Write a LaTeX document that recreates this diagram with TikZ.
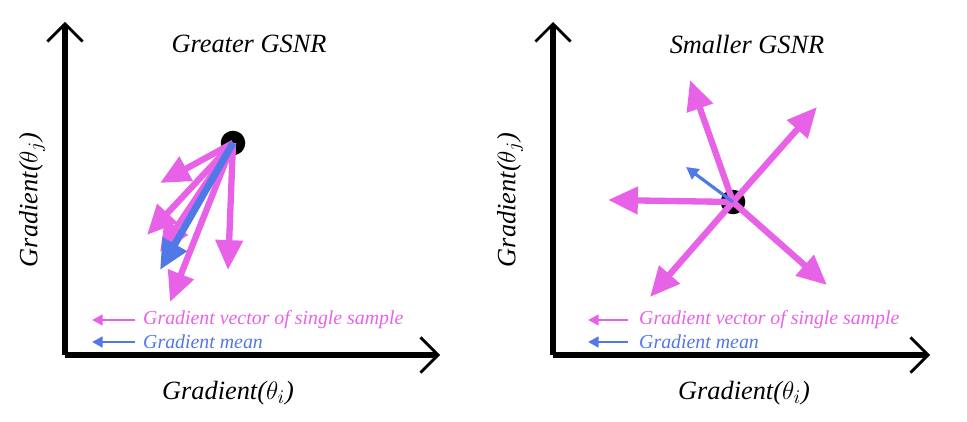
\documentclass[tikz,border=0pt]{standalone}
\usepackage{fontspec}
\setmainfont{Liberation Serif}
\usetikzlibrary{arrows.meta}
\definecolor{pk}{RGB}{232,98,232}
\definecolor{bl}{RGB}{80,120,230}
\begin{document}
\begin{tikzpicture}[x=0.02cm,y=-0.02cm,
 ax/.style={line width=3.2pt,-{Straight Barb[length=10pt,width=20pt,line width=1.6pt]}},
 pa/.style={pk,line width=3.6pt,-{Triangle[length=17pt,width=15pt]}},
 ba/.style={bl,line width=4pt,-{Triangle[length=17pt,width=15pt]}},
 sb/.style={bl,line width=1.5pt,-{Triangle[length=6pt,width=6pt]}},
 sp/.style={pk,line width=1.5pt,-{Triangle[length=6pt,width=6pt]}},
 ttl/.style={font=\itshape\fontsize{15}{18}\selectfont},
 lg/.style={font=\itshape\fontsize{11.3}{13}\selectfont,anchor=west}]
\useasboundingbox (0,0) rectangle (967,422);
% left panel
\coordinate (o1) at (65,355);
\coordinate (y1) at (65,22);
\coordinate (x1) at (440,355);
\draw[ax] (o1) -- (y1);
\draw[ax] (o1) -- (x1);
\node[ttl] (t1) at (249,44) {Greater GSNR};
\node[ttl,rotate=90] (yl1) at (32,200) {Gradient($\theta_j$)};
\node[ttl] (xl1) at (228,393) {Gradient($\theta_i$)};
\node[circle,fill=black,minimum size=14pt,inner sep=0] (d1) at (233,143) {};
\coordinate (e1) at (160,183);
\coordinate (e2) at (147,235);
\coordinate (e3) at (160,252);
\coordinate (e4) at (170,302);
\coordinate (e5) at (228,270);
\coordinate (eb) at (160,270);
\foreach \e in {e1,e2,e3,e4,e5} \draw[pa] (d1.center) -- (\e);
\draw[ba] (d1.center) -- (eb);
\coordinate (lp1a) at (135,320); \coordinate (lp1b) at (92,320);
\coordinate (lb1a) at (135,342); \coordinate (lb1b) at (92,342);
\draw[sp] (lp1a) -- (lp1b);
\draw[sb] (lb1a) -- (lb1b);
\node[lg,pk] (lt1) at (137,320) {Gradient vector of single sample};
\node[lg,bl] (lt2) at (137,342) {Gradient mean};
% right panel
\coordinate (o2) at (553,355);
\coordinate (y2) at (553,22);
\coordinate (x2) at (930,355);
\draw[ax] (o2) -- (y2);
\draw[ax] (o2) -- (x2);
\node[ttl] (t2) at (747,44) {Smaller GSNR};
\node[ttl,rotate=90] (yl2) at (510,200) {Gradient($\theta_j$)};
\node[ttl] (xl2) at (744,393) {Gradient($\theta_i$)};
\node[circle,fill=black,minimum size=14pt,inner sep=0] (d2) at (733,202) {};
\coordinate (f1) at (690,80);
\coordinate (f2) at (817,107);
\coordinate (f3) at (608,200);
\coordinate (f4) at (650,297);
\coordinate (f5) at (827,285);
\foreach \e in {f1,f2,f3,f4,f5} \draw[pa] (d2.center) -- (\e);
\coordinate (fb) at (686,167);
\draw[sb,line width=1.8pt,-{Triangle[length=7pt,width=7pt]}] (d2.center) -- (fb);
\coordinate (lp2a) at (628,320); \coordinate (lp2b) at (588,320);
\coordinate (lb2a) at (628,342); \coordinate (lb2b) at (588,342);
\draw[sp] (lp2a) -- (lp2b);
\draw[sb] (lb2a) -- (lb2b);
\node[lg,pk] (lt3) at (633,320) {Gradient vector of single sample};
\node[lg,bl] (lt4) at (633,342) {Gradient mean};
\end{tikzpicture}
\end{document}
